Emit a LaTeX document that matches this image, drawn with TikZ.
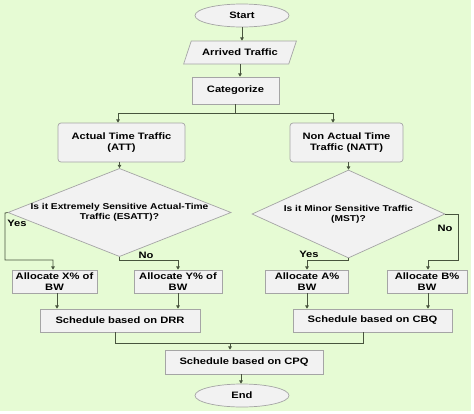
\documentclass[tikz,border=0pt]{standalone}
\usepackage{fontspec}
\setmainfont{Liberation Sans}[FakeStretch=1.2]
\usetikzlibrary{shapes.geometric,arrows.meta,calc}
\definecolor{bggreen}{RGB}{230,251,212}
\definecolor{boxfill}{RGB}{242,242,242}
\definecolor{boxline}{RGB}{165,165,165}
\definecolor{conn}{RGB}{72,84,62}
\tikzset{
  base/.style={draw=boxline, fill=boxfill, line width=0.7pt, inner sep=0pt, align=center,
    font=\fontsize{9.3}{10.5}\selectfont\bfseries},
  procbox/.style={base, rectangle},
  roundbox/.style={base, rectangle, rounded corners=3pt},
  termbox/.style={base, ellipse},
  iobox/.style={base, trapezium, trapezium left angle=49, trapezium right angle=131, trapezium stretches=true},
  decbox/.style={base, diamond, font=\fontsize{8.5}{10}\selectfont\bfseries},
  lbl/.style={font=\fontsize{9.3}{10.5}\selectfont\bfseries, text=black, inner sep=0pt},
  conn/.style={draw=conn, line width=0.8pt},
  arr/.style={conn, -{Triangle[length=3.2pt,width=3.6pt]}}
}
\begin{document}
\begin{tikzpicture}[x=1pt,y=-1pt]
\fill[bggreen] (0,0) rectangle (471,411);
\useasboundingbox (0,0) rectangle (474,413);

\node[termbox, minimum width=94pt, minimum height=23pt] (start) at (242,15.5) {Start};
\node[iobox, minimum width=113pt, minimum height=23pt] (arrived) at (240,52.5) {Arrived Traffic};
\node[procbox, minimum width=87pt, minimum height=27pt] (cat) at (235.5,90.5) {Categorize};
\node[roundbox, minimum width=127pt, minimum height=39pt] (att) at (121.5,142.5) {Actual Time Traffic\\(ATT)};
\node[roundbox, minimum width=113pt, minimum height=39pt] (natt) at (346.5,142.5) {Non Actual Time\\Traffic (NATT)};
\node[decbox, minimum width=205pt, minimum height=81pt, aspect=2.53] (esatt) at (119.5,212.5) {Is it Extremely Sensitive Actual-Time\\Traffic (ESATT)?};
\node[decbox, minimum width=193pt, minimum height=88pt, aspect=2.19] (mst) at (348.5,214) {Is it Minor Sensitive Traffic\\(MST)?};
\node[procbox, minimum width=85pt, minimum height=23pt] (allx) at (54.5,281.5) {Allocate X\% of\\BW};
\node[procbox, minimum width=88pt, minimum height=23pt] (ally) at (178,281.5) {Allocate Y\% of\\BW};
\node[procbox, minimum width=83pt, minimum height=23pt] (alla) at (307,281.5) {Allocate A\%\\BW};
\node[procbox, minimum width=80pt, minimum height=23pt] (allb) at (427,281.5) {Allocate B\%\\BW};
\node[procbox, minimum width=160pt, minimum height=23pt] (drr) at (120,320.5) {Schedule based on DRR};
\node[procbox, minimum width=159pt, minimum height=23pt] (cbq) at (372.5,320.5) {Schedule based on CBQ};
\node[procbox, minimum width=158pt, minimum height=24pt] (cpq) at (244,362) {Schedule based on CPQ};
\node[termbox, minimum width=94pt, minimum height=23pt] (end) at (242,395.5) {End};

% labels
\node[lbl] (yes1) at (17,223) {Yes};
\node[lbl] (no1) at (146,255) {No};
\node[lbl] (yes2) at (309,254) {Yes};
\node[lbl] (no2) at (445,228) {No};

% coordinates
\coordinate (split) at (235.5,113);
\coordinate (jl) at (118,113);
\coordinate (jr) at (333,113);
\coordinate (m1) at (5,213);
\coordinate (m2) at (5,260);
\coordinate (m3) at (53,260);
\coordinate (n1) at (119.5,260);
\coordinate (n2) at (178,260);
\coordinate (y1) at (348.5,260);
\coordinate (y2) at (307,260);
\coordinate (o1) at (458,214);
\coordinate (o2) at (458,260);
\coordinate (o3) at (428,260);
\coordinate (d1) at (115,343);
\coordinate (d2) at (363,343);
\coordinate (d3) at (230,343);

% connectors
\draw[arr] (start.south) -- (start.south |- arrived.north);
\draw[arr] (arrived.south -| 240,0) -- (240,0 |- cat.north);
\draw[conn] (cat.south) -- (split);
\draw[conn] (jl) -- (jr);
\draw[arr] (jl) -- (jl |- att.north);
\draw[arr] (jr) -- (jr |- natt.north);
\draw[arr] (att.south -| esatt.north) -- (esatt.north);
\draw[arr] (natt.south -| mst.north) -- (mst.north);
\draw[arr] (esatt.west) -- (m1) -- (m2) -- (m3) -- (m3 |- allx.north);
\draw[arr] (esatt.south) -- (n1) -- (n2) -- (n2 |- ally.north);
\draw[arr] (mst.south) -- (y1) -- (y2) -- (y2 |- alla.north);
\draw[arr] (mst.east) -- (o1) -- (o2) -- (o3) -- (o3 |- allb.north);
\draw[arr] (allx.south -| 57,0) -- (57,0 |- drr.north);
\draw[arr] (ally.south) -- (ally.south |- drr.north);
\draw[arr] (alla.south) -- (alla.south |- cbq.north);
\draw[arr] (allb.south -| 428,0) -- (428,0 |- cbq.north);
\draw[conn] (d1 |- drr.south) -- (d1) -- (d2) -- (d2 |- cbq.south);
\draw[arr] (d3) -- (d3 |- cpq.north);
\draw[arr] (cpq.south -| 241,0) -- (241,0 |- end.north);
\end{tikzpicture}
\end{document}
